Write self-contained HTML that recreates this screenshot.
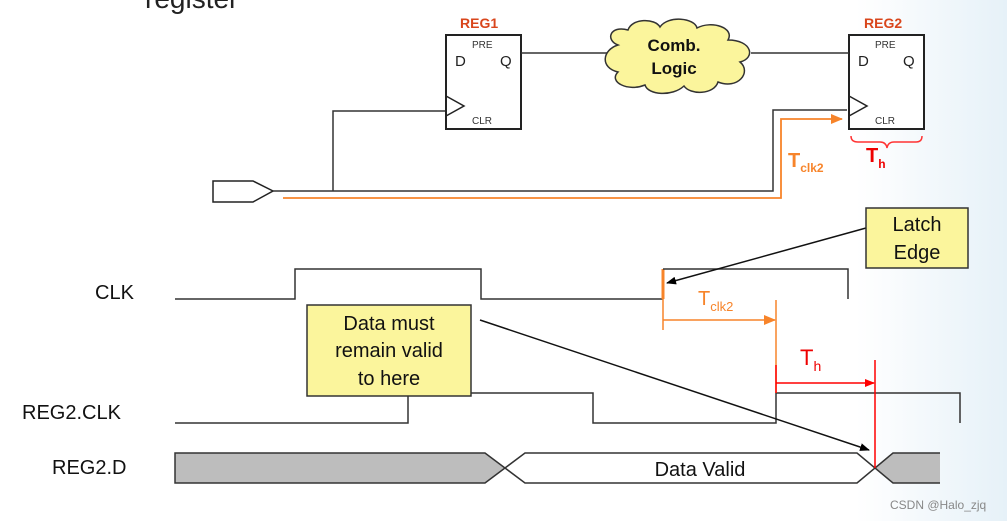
<!DOCTYPE html>
<html><head><meta charset="utf-8"><style>
body{margin:0;width:1007px;height:521px;overflow:hidden;background:#fff;font-family:"Liberation Sans",Arial,sans-serif}
</style></head><body>
<svg width="1007" height="521" viewBox="0 0 1007 521" xmlns="http://www.w3.org/2000/svg" font-family="Liberation Sans, Arial, sans-serif">
<defs>
<linearGradient id="bg" x1="0" x2="1" y1="0" y2="0"><stop offset="0.85" stop-color="#fff"/><stop offset="1" stop-color="#e6f1f8"/></linearGradient>
<marker id="ab" markerWidth="10" markerHeight="8" refX="9" refY="4" orient="auto" markerUnits="userSpaceOnUse"><path d="M0,0 L10,4 L0,8z" fill="#000"/></marker>
<marker id="ao" markerWidth="12" markerHeight="10" refX="11" refY="5" orient="auto" markerUnits="userSpaceOnUse"><path d="M0,0 L12,5 L0,10z" fill="#f7842a"/></marker>
<marker id="ar" markerWidth="10" markerHeight="8" refX="9" refY="4" orient="auto" markerUnits="userSpaceOnUse"><path d="M0,0 L10,4 L0,8z" fill="#f00"/></marker>
</defs>
<rect width="1007" height="521" fill="url(#bg)"/>
<text x="145" y="8" font-size="28" fill="#222">register</text>
<!-- REG1 -->
<text x="460" y="28" font-size="14" font-weight="bold" fill="#d9461c">REG1</text>
<rect x="446" y="35" width="75" height="94" fill="#fff" stroke="#222" stroke-width="2"/>
<text x="472" y="48" font-size="10" fill="#333">PRE</text>
<text x="472" y="124" font-size="10" fill="#333">CLR</text>
<text x="455" y="66" font-size="15" fill="#222">D</text>
<text x="500" y="66" font-size="15" fill="#222">Q</text>
<path d="M446,96 L464,106 L446,116" fill="none" stroke="#222" stroke-width="1.5"/>
<!-- REG2 -->
<text x="864" y="28" font-size="14" font-weight="bold" fill="#d9461c">REG2</text>
<rect x="849" y="35" width="75" height="94" fill="#fff" stroke="#222" stroke-width="2"/>
<text x="875" y="48" font-size="10" fill="#333">PRE</text>
<text x="875" y="124" font-size="10" fill="#333">CLR</text>
<text x="858" y="66" font-size="15" fill="#222">D</text>
<text x="903" y="66" font-size="15" fill="#222">Q</text>
<path d="M849,96 L867,106 L849,116" fill="none" stroke="#222" stroke-width="1.5"/>
<path d="M851,136 Q851,142 858,142 L880,142 Q886,142 887,148 Q888,142 894,142 L916,142 Q922,142 922,136" fill="none" stroke="#f33" stroke-width="1.5"/>
<!-- cloud -->
<line x1="521" y1="53" x2="608" y2="53" stroke="#333" stroke-width="1.5"/>
<line x1="751" y1="53" x2="849" y2="53" stroke="#333" stroke-width="1.5"/>
<path d="M618,45 C605,40 610,25 628,30 C632,18 655,18 660,27 C668,15 695,18 697,28 C712,20 735,28 728,40 C752,40 756,58 740,62 C752,72 738,90 718,82 C714,95 690,95 684,86 C672,97 648,95 645,85 C628,92 608,82 618,72 C600,68 602,50 618,45z" fill="#fbf59c" stroke="#333" stroke-width="1.5"/>
<text x="674" y="51" font-size="17" font-weight="bold" text-anchor="middle" fill="#111">Comb.</text>
<text x="674" y="74" font-size="17" font-weight="bold" text-anchor="middle" fill="#111">Logic</text>
<!-- clock -->
<path d="M213,181 L253,181 L273,191 L253,202 L213,202z" fill="#fff" stroke="#222" stroke-width="1.5"/>
<path d="M273,191 L773,191 L773,110 L847,110" fill="none" stroke="#333" stroke-width="1.5"/>
<path d="M333,191 L333,111 L445,111" fill="none" stroke="#333" stroke-width="1.5"/>
<path d="M283,198 L781,198 L781,119 L842,119" fill="none" stroke="#f7842a" stroke-width="1.8" marker-end="url(#ao)"/>
<text x="788" y="167" font-size="20" font-weight="bold" fill="#f7842a">T<tspan font-size="12" dy="5">clk2</tspan></text>
<text x="866" y="162" font-size="20" font-weight="bold" fill="#e00">T<tspan font-size="12" dy="6">h</tspan></text>
<!-- timing labels -->
<text x="95" y="299" font-size="20" fill="#111">CLK</text>
<text x="22" y="419" font-size="20" fill="#111">REG2.CLK</text>
<text x="52" y="474" font-size="20" fill="#111">REG2.D</text>
<!-- CLK -->
<path d="M175,299 L295,299 L295,269 L481,269 L481,299 L663,299" fill="none" stroke="#333" stroke-width="1.5"/>
<path d="M663,299 L663,269" stroke="#f7842a" stroke-width="3"/>
<path d="M663,269 L848,269 L848,299" fill="none" stroke="#333" stroke-width="1.5"/>
<!-- REG2.CLK -->
<path d="M175,423 L408,423 L408,393 L593,393 L593,423 L776,423 L776,393 L960,393 L960,423" fill="none" stroke="#333" stroke-width="1.5"/>
<!-- REG2.D -->
<path d="M175,453 L485,453 L505,468 L485,483 L175,483z" fill="#bdbdbd" stroke="#333" stroke-width="1.5"/>
<path d="M505,468 L525,453 L857,453 L875,468 L857,483 L525,483z" fill="#fff" stroke="#333" stroke-width="1.5"/>
<path d="M940,453 L893,453 L875,468 L893,483 L940,483z" fill="#bdbdbd" stroke="none"/>
<path d="M940,453 L893,453 L875,468 L893,483 L940,483" fill="none" stroke="#333" stroke-width="1.5"/>
<text x="700" y="476" font-size="20" text-anchor="middle" fill="#111">Data Valid</text>
<!-- Tclk2 / Th markers -->
<line x1="663" y1="299" x2="663" y2="330" stroke="#f7842a" stroke-width="1.5"/>
<line x1="663" y1="320" x2="775" y2="320" stroke="#f7842a" stroke-width="1.5" marker-end="url(#ao)"/>
<line x1="776" y1="300" x2="776" y2="393" stroke="#f7842a" stroke-width="1.5"/>
<text x="698" y="305" font-size="20" fill="#f7842a">T<tspan font-size="13" dy="6">clk2</tspan></text>
<line x1="776" y1="365" x2="776" y2="393" stroke="#f00" stroke-width="1.5"/>
<line x1="776" y1="383" x2="874" y2="383" stroke="#f00" stroke-width="1.5" marker-end="url(#ar)"/>
<line x1="875" y1="360" x2="875" y2="468" stroke="#f00" stroke-width="1.5"/>
<text x="800" y="365" font-size="22" fill="#e00">T<tspan font-size="14" dy="6">h</tspan></text>
<!-- callouts -->
<line x1="480" y1="320" x2="869" y2="450" stroke="#111" stroke-width="1.5" marker-end="url(#ab)"/>
<rect x="307" y="305" width="164" height="91" fill="#fbf59c" stroke="#333" stroke-width="1.5"/>
<text x="389" y="330" font-size="20" text-anchor="middle" fill="#111">Data must</text>
<text x="389" y="357" font-size="20" text-anchor="middle" fill="#111">remain valid</text>
<text x="389" y="385" font-size="20" text-anchor="middle" fill="#111">to here</text>
<line x1="866" y1="228" x2="667" y2="283" stroke="#111" stroke-width="1.5" marker-end="url(#ab)"/>
<rect x="866" y="208" width="102" height="60" fill="#fbf59c" stroke="#333" stroke-width="1.5"/>
<text x="917" y="231" font-size="20" text-anchor="middle" fill="#111">Latch</text>
<text x="917" y="259" font-size="20" text-anchor="middle" fill="#111">Edge</text>
<text x="890" y="509" font-size="12" fill="#888">CSDN @Halo_zjq</text>
</svg>
</body></html>
